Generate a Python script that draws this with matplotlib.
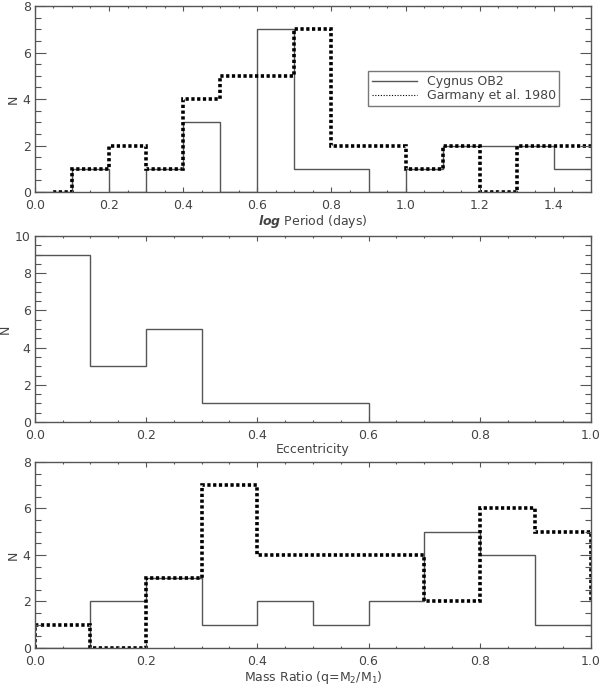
# binary_stats_hist.py
# Cyg OB2 binaries vs Garmany et al. 1980 — period, eccentricity, mass-ratio histograms

import numpy as np
import matplotlib.pyplot as plt
from matplotlib.lines import Line2D
from matplotlib.ticker import MultipleLocator

plt.rcParams['font.family'] = ['DejaVu Sans']
plt.rcParams['mathtext.fontset'] = 'dejavusans'

GREY = '#555555'
TXT  = '#444444'

# ── Data ──────────────────────────────────────────────────────────────────────
# log period, bin width 0.1
per_edges_cyg = np.round(np.arange(0.0, 1.51, 0.1), 2)
per_cyg       = [0, 1, 0, 1, 3, 0, 7, 1, 1, 0, 1, 2, 2, 2, 1]
per_edges_gar = [0.05, 0.1, 0.2, 0.3, 0.4, 0.5, 0.6, 0.7, 0.8,
                 0.9, 1.0, 1.1, 1.2, 1.3, 1.4, 1.5, 1.6]
per_gar       = [0, 1, 2, 1, 4, 5, 5, 7, 2, 2, 1, 2, 0, 2, 2, 2]

# eccentricity
ecc_edges = np.round(np.arange(0.0, 1.01, 0.1), 2)
ecc_cyg   = [9, 3, 5, 1, 1, 1, 0, 0, 0, 0]

# mass ratio q = M2/M1
q_edges_cyg = np.round(np.arange(0.0, 1.01, 0.1), 2)
q_cyg       = [0, 2, 3, 1, 2, 1, 2, 5, 4, 1]
q_edges_gar = np.round(np.arange(0.0, 1.11, 0.1), 2)
q_gar       = [1, 0, 3, 7, 4, 4, 4, 2, 6, 5, 2]

# ── Figure ────────────────────────────────────────────────────────────────────
fig = plt.figure(figsize=(6.0, 6.89), dpi=100)
left, width, height = 0.058, 0.927, 0.2700
ax1 = fig.add_axes([left, 0.7213, width, height])
ax2 = fig.add_axes([left, 0.3875, width, height])
ax3 = fig.add_axes([left, 0.0595, width, height])

solid_kw  = dict(color=GREY, lw=1.0, baseline=None)
dotted_kw = dict(color='black', lw=2.6, linestyle=(0, (0.9, 0.7)), baseline=None)


def style(ax, xlim, ylim, xlabel):
    ax.set_xlim(*xlim)
    ax.set_ylim(*ylim)
    ax.xaxis.set_major_locator(MultipleLocator(0.2))
    ax.xaxis.set_minor_locator(MultipleLocator(0.05))
    ax.yaxis.set_major_locator(MultipleLocator(2))
    ax.yaxis.set_minor_locator(MultipleLocator(0.5))
    ax.xaxis.set_major_formatter(plt.FuncFormatter(lambda v, p: f'{v:.1f}'))
    ax.tick_params(axis='both', which='both', direction='in',
                   top=True, right=True, colors=GREY, labelcolor=TXT,
                   labelsize=9, width=0.8)
    ax.tick_params(axis='x', which='major', length=3.5, pad=5)
    ax.tick_params(axis='x', which='minor', length=1.5)
    ax.tick_params(axis='y', which='major', length=8, pad=3)
    ax.tick_params(axis='y', which='minor', length=4)
    for s in ax.spines.values():
        s.set_color(GREY)
        s.set_linewidth(1.0)
    ax.set_xlabel(xlabel, fontsize=9, color=TXT, labelpad=1)
    ax.set_ylabel('N', fontsize=9, color=TXT, labelpad=2)


# period
ax1.stairs(per_cyg, per_edges_cyg, **solid_kw)
ax1.stairs(per_gar, per_edges_gar, **dotted_kw)
style(ax1, (0.0, 1.5), (0, 8), r'$\mathbfit{log}$ Period (days)')

handles = [Line2D([], [], color=GREY, lw=1.0),
           Line2D([], [], color='black', lw=0.8, linestyle=(0, (1, 1.5)))]
leg = ax1.legend(handles, ['Cygnus OB2', 'Garmany et al. 1980'],
                 loc='lower left', bbox_to_anchor=(0.599, 0.463, 0.343, 0.169),
                 mode='expand', fontsize=9, frameon=True, fancybox=False,
                 borderpad=0.3, labelspacing=0.1, handlelength=3.6,
                 handletextpad=0.8, borderaxespad=0)
leg.get_frame().set_edgecolor(GREY)
leg.get_frame().set_linewidth(1.0)
for t in leg.get_texts():
    t.set_color(TXT)

# eccentricity
ax2.stairs(ecc_cyg, ecc_edges, **solid_kw)
style(ax2, (0.0, 1.0), (0, 10), 'Eccentricity')

# mass ratio
ax3.stairs(q_cyg, q_edges_cyg, **solid_kw)
ax3.stairs(q_gar, q_edges_gar, color='black', lw=2.6,
           linestyle=(0, (0.9, 0.7)), baseline=0)
style(ax3, (0.0, 1.0), (0, 8), r'Mass Ratio (q=M$_2$/M$_1$)')

plt.savefig('out.png', dpi=100)
